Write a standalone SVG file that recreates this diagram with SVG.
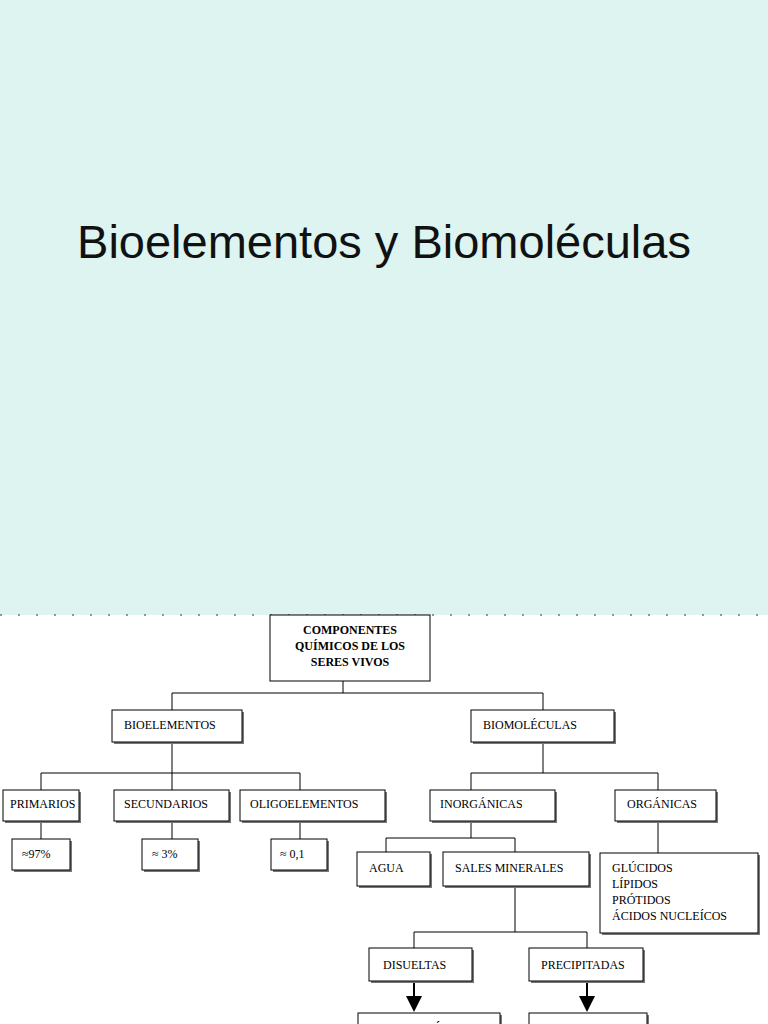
<svg xmlns="http://www.w3.org/2000/svg" width="768" height="1024" viewBox="0 0 768 1024">
<style>
.b{fill:#fff;stroke:#000;stroke-width:1}
.s{fill:#777}
.t{font-family:"Liberation Serif",serif;font-size:12px;fill:#000}
.c{fill:none;stroke:#000;stroke-width:1}
</style>
<rect width="768" height="615" fill="#DDF4F0"/>
<line x1="0" y1="615" x2="768" y2="615" stroke="#333" stroke-width="1" stroke-dasharray="2,16"/>
<text x="384" y="258" text-anchor="middle" font-family="Liberation Sans,Arial,sans-serif" font-size="47" fill="#111">Bioelementos y Biomoléculas</text>
<g id="connectors">
<path class="c" d="M343,681V693M172,693H543M172,693V710M543,693V710"/>
<path class="c" d="M172,742V773M41,773H300M41,773V790M172,773V790M300,773V790"/>
<path class="c" d="M41,821V839M172,821V839M300,821V839"/>
<path class="c" d="M543,742V773M471,773H658M471,773V790M658,773V790"/>
<path class="c" d="M471,821V838M386,838H515M386,838V852M515,838V852M658,821V853"/>
<path class="c" d="M515,886V932M414,932H587M414,932V948M587,932V948"/>
<path d="M414,981V998M587,981V998" stroke="#000" stroke-width="2"/>
<path d="M406,996H422L414,1012zM579,996H595L587,1012z" fill="#000"/>
</g>
<g id="n0"><rect class="b" x="270" y="615" width="160" height="66"/><text class="t" x="350" y="634" text-anchor="middle" font-weight="bold">COMPONENTES</text><text class="t" x="350" y="650" text-anchor="middle" font-weight="bold">QUÍMICOS DE LOS</text><text class="t" x="350" y="666" text-anchor="middle" font-weight="bold">SERES VIVOS</text></g>
<g id="n1"><rect class="s" x="114" y="712" width="130" height="32"/><rect class="b" x="112" y="710" width="130" height="32"/><text class="t" x="124" y="729">BIOELEMENTOS</text></g>
<g id="n2"><rect class="s" x="473" y="712" width="143" height="32"/><rect class="b" x="471" y="710" width="143" height="32"/><text class="t" x="483" y="729">BIOMOLÉCULAS</text></g>
<g id="n3"><rect class="s" x="5" y="792" width="76" height="31"/><rect class="b" x="3" y="790" width="76" height="31"/><text class="t" x="10" y="808">PRIMARIOS</text></g>
<g id="n4"><rect class="s" x="116" y="792" width="115" height="31"/><rect class="b" x="114" y="790" width="115" height="31"/><text class="t" x="124" y="808">SECUNDARIOS</text></g>
<g id="n5"><rect class="s" x="242" y="792" width="145" height="31"/><rect class="b" x="240" y="790" width="145" height="31"/><text class="t" x="250" y="808">OLIGOELEMENTOS</text></g>
<g id="n6"><rect class="s" x="14" y="841" width="58" height="31"/><rect class="b" x="12" y="839" width="58" height="31"/><text class="t" x="22" y="858">≈97%</text></g>
<g id="n7"><rect class="s" x="144" y="841" width="56" height="31"/><rect class="b" x="142" y="839" width="56" height="31"/><text class="t" x="152" y="858">≈ 3%</text></g>
<g id="n8"><rect class="s" x="273" y="841" width="56" height="31"/><rect class="b" x="271" y="839" width="56" height="31"/><text class="t" x="280" y="858">≈ 0,1</text></g>
<g id="n9"><rect class="s" x="432" y="792" width="125" height="31"/><rect class="b" x="430" y="790" width="125" height="31"/><text class="t" x="440" y="808">INORGÁNICAS</text></g>
<g id="n10"><rect class="s" x="617" y="792" width="101" height="31"/><rect class="b" x="615" y="790" width="101" height="31"/><text class="t" x="627" y="808">ORGÁNICAS</text></g>
<g id="n11"><rect class="s" x="359" y="854" width="73" height="34"/><rect class="b" x="357" y="852" width="73" height="34"/><text class="t" x="369" y="872">AGUA</text></g>
<g id="n12"><rect class="s" x="445" y="854" width="146" height="34"/><rect class="b" x="443" y="852" width="146" height="34"/><text class="t" x="455" y="872">SALES MINERALES</text></g>
<g id="n13"><rect class="s" x="602" y="855" width="158" height="80"/><rect class="b" x="600" y="853" width="158" height="80"/><text class="t" x="612" y="872">GLÚCIDOS</text><text class="t" x="612" y="888">LÍPIDOS</text><text class="t" x="612" y="904">PRÓTIDOS</text><text class="t" x="612" y="920">ÁCIDOS NUCLEÍCOS</text></g>
<g id="n14"><rect class="s" x="371" y="950" width="103" height="33"/><rect class="b" x="369" y="948" width="103" height="33"/><text class="t" x="383" y="969">DISUELTAS</text></g>
<g id="n15"><rect class="s" x="531" y="950" width="114" height="33"/><rect class="b" x="529" y="948" width="114" height="33"/><text class="t" x="541" y="969">PRECIPITADAS</text></g>
<g id="n16"><rect class="s" x="360" y="1015" width="142" height="30"/><rect class="b" x="358" y="1013" width="142" height="30"/><text class="t" x="368" y="1032" font-weight="bold">REGULACIÓN DE</text></g>
<g id="n17"><rect class="s" x="531" y="1015" width="118" height="30"/><rect class="b" x="529" y="1013" width="118" height="30"/><text class="t" x="539" y="1032" font-weight="bold">ESQUELETOS</text></g>
</svg>
